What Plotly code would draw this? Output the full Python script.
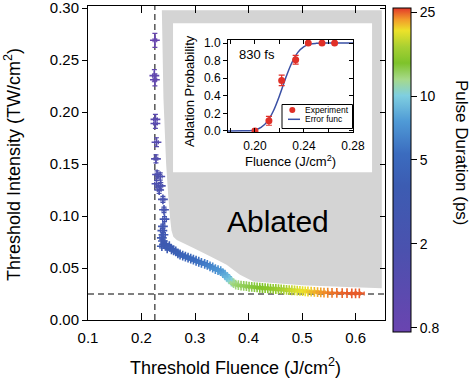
import math
import plotly.graph_objects as go
from plotly.colors import sample_colorscale

# ---------------- main data ----------------
fluence = [0.225, 0.224, 0.225, 0.226, 0.226, 0.228, 0.227, 0.229, 0.235, 0.228, 0.236, 0.233,
           0.240, 0.242, 0.243, 0.240, 0.239, 0.241, 0.238, 0.240, 0.243, 0.238, 0.246, 0.248,
           0.252, 0.256, 0.260, 0.264, 0.268, 0.272, 0.277, 0.282, 0.287, 0.292, 0.297, 0.302,
           0.307, 0.312, 0.318, 0.323, 0.328, 0.333, 0.338, 0.343, 0.348, 0.352, 0.356, 0.360,
           0.364, 0.368, 0.372, 0.376, 0.381, 0.386, 0.391, 0.396, 0.401, 0.406, 0.411, 0.416,
           0.421, 0.426, 0.431, 0.436, 0.441, 0.446, 0.451, 0.456, 0.461, 0.466, 0.471, 0.476,
           0.481, 0.486, 0.491, 0.496, 0.501, 0.506, 0.511, 0.517, 0.523, 0.529, 0.535, 0.541,
           0.548, 0.556, 0.565, 0.575, 0.584, 0.593, 0.600, 0.607]
intensity = [0.269, 0.235, 0.231, 0.193, 0.189, 0.171, 0.155, 0.140, 0.138, 0.131, 0.129, 0.125,
             0.116, 0.106, 0.097, 0.090, 0.086, 0.082, 0.079, 0.076, 0.073, 0.071, 0.072, 0.069,
             0.071, 0.068, 0.067, 0.066, 0.064, 0.063, 0.062, 0.061, 0.060, 0.059, 0.058, 0.057,
             0.056, 0.055, 0.054, 0.053, 0.0515, 0.0505, 0.049, 0.048, 0.047, 0.045, 0.0435, 0.0415,
             0.039, 0.037, 0.0355, 0.034, 0.0335, 0.033, 0.0328, 0.0325, 0.032, 0.0318, 0.0316, 0.0314,
             0.031, 0.0308, 0.0306, 0.0304, 0.0302, 0.030, 0.0298, 0.0296, 0.0294, 0.0292, 0.029, 0.0288,
             0.0286, 0.0284, 0.0282, 0.028, 0.0278, 0.0276, 0.0274, 0.0272, 0.027, 0.0268, 0.0266, 0.0264,
             0.0262, 0.0261, 0.026, 0.0259, 0.0258, 0.0257, 0.0256, 0.0256]
pulse_ps = [0.84, 0.95, 0.97, 1.17, 1.2, 1.33, 1.46, 1.64, 1.7, 1.74, 1.83, 1.86,
            2.07, 2.28, 2.5, 2.67, 2.78, 2.94, 3.0, 3.15, 3.3, 3.35, 3.4, 3.6,
            3.55, 3.75, 3.9, 4.0, 4.2, 4.3, 4.45, 4.6, 4.8, 4.95, 5.1, 5.3,
            5.5, 5.7, 5.9, 6.1, 6.4, 6.6, 6.9, 7.1, 7.4, 7.8, 8.2, 8.7,
            9.4, 10.5, 11.8, 12.3, 12.6, 12.9, 13.0, 13.2, 13.4, 13.6, 13.8, 14.0,
            14.2, 14.5, 14.7, 14.9, 15.1, 15.4, 15.7, 16.0, 16.4, 16.8, 17.3, 17.8,
            18.3, 18.8, 19.2, 19.6, 20.0, 20.4, 20.8, 21.3, 21.8, 22.3, 22.8, 23.2,
            23.6, 24.0, 24.3, 24.6, 24.8, 25.0, 25.0, 25.0]

# boundary of the grey "Ablated" region
region_fluence = [0.238, 0.241, 0.246, 0.250, 0.253, 0.256, 0.2595, 0.266, 0.297, 0.328,
                  0.359, 0.384, 0.409, 0.446, 0.500, 0.571, 0.649, 0.649]
region_intensity = [0.298, 0.213, 0.150, 0.119, 0.100, 0.086, 0.080, 0.077, 0.0693, 0.0612,
                    0.0532, 0.0435, 0.037, 0.0355, 0.0335, 0.032, 0.0306, 0.298]

threshold_fluence = 0.225
threshold_intensity = 0.025

x_ticks = [0.1, 0.2, 0.3, 0.4, 0.5, 0.6]
x_tick_text = ["0.1", "0.2", "0.3", "0.4", "0.5", "0.6"]
y_ticks = [0.0, 0.05, 0.10, 0.15, 0.20, 0.25, 0.30]
y_tick_text = ["0.00", "0.05", "0.10", "0.15", "0.20", "0.25", "0.30"]
cb_ticks = [0.8, 2, 5, 10, 25]
cb_tick_text = ["0.8", "2", "5", "10", "25"]

# ---------------- inset data ----------------
inset_fluence = [0.200, 0.2114, 0.2218, 0.2332, 0.2435, 0.2547, 0.265]
inset_prob = [0.0, 0.115, 0.575, 0.81, 1.0, 1.0, 1.0]
inset_err = [0.02, 0.05, 0.06, 0.05, 0.0, 0.0, 0.0]
fit_fluence = [0.178, 0.19, 0.195, 0.20, 0.205, 0.21, 0.215, 0.22, 0.225, 0.23, 0.235,
               0.24, 0.245, 0.25, 0.26, 0.28]
fit_prob = [0.0, 0.001, 0.003, 0.012, 0.04, 0.106, 0.227, 0.401, 0.599, 0.773, 0.894,
            0.96, 0.988, 0.997, 1.0, 1.0]
inset_x_ticks = [0.20, 0.24, 0.28]
inset_x_text = ["0.20", "0.24", "0.28"]
inset_x_minor = [0.18, 0.22, 0.26]
inset_y_ticks = [0.0, 0.2, 0.4, 0.6, 0.8, 1.0]
inset_y_text = ["0.0", "0.2", "0.4", "0.6", "0.8", "1.0"]

# ---------------- styling ----------------
FONT = "Liberation Sans, Arial, Helvetica, sans-serif"
W, H = 474, 386
L, R, T, B = 88, 89, 6, 66
PW, PH = W - L - R, H - T - B


def px(xp):
    return (xp - L) / PW


def py(yp):
    return (T + PH - yp) / PH


colorscale = [
    [0.0, "rgb(106,68,176)"], [0.25, "rgb(75,81,174)"], [0.45, "rgb(60,92,178)"],
    [0.55, "rgb(59,108,191)"], [0.65, "rgb(79,154,214)"], [0.73, "rgb(127,207,224)"],
    [0.78, "rgb(166,217,138)"], [0.83, "rgb(126,195,42)"], [0.88, "rgb(168,208,50)"],
    [0.93, "rgb(236,226,42)"], [0.965, "rgb(242,154,42)"], [1.0, "rgb(226,56,42)"],
]
cmin, cmax = -0.116, 1.417
log_pulse = [math.log10(v) for v in pulse_ps]
fracs = [min(1.0, max(0.0, (v - cmin) / (cmax - cmin))) for v in log_pulse]
point_colors = sample_colorscale(colorscale, fracs)

fig = go.Figure()

# colorbar carrier
fig.add_trace(go.Scatter(
    x=fluence, y=intensity, mode="markers", hoverinfo="skip", showlegend=False,
    marker=dict(color=log_pulse, colorscale=colorscale, cmin=cmin, cmax=cmax, opacity=0,
                size=4, showscale=True,
                colorbar=dict(
                    thickness=18, lenmode="pixels", len=324, y=py(170), yanchor="middle",
                    x=px(393), xanchor="left", xpad=0, ypad=0,
                    outlinewidth=1, outlinecolor="black",
                    tickvals=[math.log10(v) for v in cb_ticks], ticktext=cb_tick_text,
                    ticks="outside", ticklen=6, tickcolor="black",
                    tickfont=dict(size=14, family=FONT, color="black"))),
))

# data points with error bars, coloured by pulse duration
for f, i, c in zip(fluence, intensity, point_colors):
    fig.add_trace(go.Scatter(
        x=[f], y=[i], mode="markers", showlegend=False, hoverinfo="skip",
        marker=dict(symbol="cross-thin", size=7, color=c, line=dict(color=c, width=1.6)),
        error_x=dict(type="percent", value=1.5, color=c, thickness=1.2, width=2),
        error_y=dict(type="percent", value=2.5, color=c, thickness=1.2, width=2.5),
    ))

# right-side inside ticks of the main frame
fig.add_trace(go.Scatter(x=[None], y=[None], yaxis="y2", showlegend=False, hoverinfo="skip"))

# inset traces
fig.add_trace(go.Scatter(
    x=fit_fluence, y=fit_prob, mode="lines", xaxis="x3", yaxis="y3", showlegend=False,
    line=dict(color="rgb(58,80,165)", width=1.5, shape="spline"), hoverinfo="skip"))
fig.add_trace(go.Scatter(
    x=inset_fluence, y=inset_prob, mode="markers", xaxis="x3", yaxis="y3", showlegend=False,
    marker=dict(color="rgb(224,48,40)", size=7),
    error_y=dict(type="data", array=inset_err, color="rgb(224,48,40)", thickness=1.2, width=3),
    hoverinfo="skip"))
fig.add_trace(go.Scatter(x=[None], y=[None], xaxis="x3", yaxis="y4", showlegend=False,
                         hoverinfo="skip"))

# ---------------- shapes ----------------
path = "M " + " L ".join(f"{f},{i}" for f, i in zip(region_fluence, region_intensity)) + " Z"
shapes = [
    dict(type="path", path=path, xref="x", yref="y", layer="below",
         fillcolor="rgb(212,212,212)", line=dict(width=0)),
    dict(type="rect", xref="x", yref="y", layer="below", x0=0.2589, x1=0.6308,
         y0=0.1422, y1=0.2853, fillcolor="white", line=dict(width=0)),
    dict(type="line", xref="x", yref="paper", x0=threshold_fluence, x1=threshold_fluence,
         y0=0, y1=1, layer="below", line=dict(color="black", width=1, dash="6px,4px")),
    dict(type="line", xref="paper", yref="y", x0=0, x1=1, y0=threshold_intensity,
         y1=threshold_intensity, layer="below",
         line=dict(color="black", width=1, dash="6px,4px")),
    # inset legend
    dict(type="rect", xref="paper", yref="paper", x0=px(282), x1=px(352.5), y0=py(128.5),
         y1=py(104.5), fillcolor="white", line=dict(color="black", width=1), layer="above"),
    dict(type="circle", xref="paper", yref="paper", x0=px(289.3), x1=px(295.3), y0=py(113),
         y1=py(107), fillcolor="rgb(224,48,40)", line=dict(width=0), layer="above"),
    dict(type="line", xref="paper", yref="paper", x0=px(288), x1=px(300), y0=py(119.3),
         y1=py(119.3), line=dict(color="rgb(58,80,165)", width=1.5), layer="above"),
]

annotations = [
    dict(text="Threshold Intensity (TW/cm<sup>2</sup>)", x=px(12), y=py(165), xref="paper",
         yref="paper", textangle=-90, showarrow=False, xanchor="center", yanchor="middle",
         font=dict(size=18, family=FONT, color="black")),
    dict(text="Threshold Fluence (J/cm<sup>2</sup>)", x=px(235), y=py(366), xref="paper",
         yref="paper", showarrow=False, xanchor="center", yanchor="middle",
         font=dict(size=18, family=FONT, color="black")),
    dict(text="Pulse Duration (ps)", x=px(462), y=py(153), xref="paper", yref="paper",
         textangle=90, showarrow=False, xanchor="center", yanchor="middle",
         font=dict(size=17, family=FONT, color="black")),
    dict(text="Ablated", x=0.455, y=0.0948, xref="x", yref="y", showarrow=False,
         font=dict(size=30, family=FONT, color="black")),
    dict(text="830 fs", x=0.2017, y=0.872, xref="x3", yref="y3", showarrow=False,
         font=dict(size=13, family=FONT, color="black")),
    dict(text="Ablation Probability", x=px(189), y=py(91), xref="paper", yref="paper",
         textangle=-90, showarrow=False, xanchor="center", yanchor="middle",
         font=dict(size=13, family=FONT, color="black")),
    dict(text="Fluence (J/cm<sup>2</sup>)", x=px(290), y=py(161), xref="paper", yref="paper",
         showarrow=False, xanchor="center", yanchor="middle",
         font=dict(size=13, family=FONT, color="black")),
    dict(text="Experiment", x=px(303), y=py(110), xref="paper", yref="paper", showarrow=False,
         xanchor="left", yanchor="middle", font=dict(size=8.5, family=FONT, color="black")),
    dict(text="Error func", x=px(303), y=py(119.5), xref="paper", yref="paper", showarrow=False,
         xanchor="left", yanchor="middle", font=dict(size=8.5, family=FONT, color="black")),
]

axis_common = dict(showgrid=False, zeroline=False, linecolor="black", linewidth=1,
                   tickcolor="black", tickwidth=1, ticklabeloverflow="allow")

fig.update_layout(
    width=W, height=H, margin=dict(l=L, r=R, t=T, b=B, autoexpand=False),
    paper_bgcolor="white", plot_bgcolor="rgba(0,0,0,0)",
    font=dict(family=FONT, color="black"),
    showlegend=False,
    xaxis=dict(domain=[0, 1], range=[0.1, 0.655], tickvals=x_ticks, ticktext=x_tick_text,
               ticks="inside", ticklen=7, mirror="ticks", showline=True, anchor="y",
               ticklabelstandoff=4, tickfont=dict(size=15), **axis_common),
    yaxis=dict(domain=[0, 1], range=[0, 0.302], tickvals=y_ticks, ticktext=y_tick_text,
               ticks="outside", ticklen=5, mirror=True, showline=True, anchor="x",
               tickfont=dict(size=15), **axis_common),
    yaxis2=dict(overlaying="y", side="right", anchor="x", range=[0, 0.302], tickvals=y_ticks,
                ticks="inside", ticklen=5, showticklabels=False, showline=False,
                **axis_common),
    xaxis3=dict(domain=[px(228), px(353)], anchor="y3", range=[0.178, 0.28],
                tickvals=inset_x_ticks, ticktext=inset_x_text, ticks="inside", ticklen=4,
                mirror="ticks", showline=True, ticklabelstandoff=3,
                minor=dict(tickvals=inset_x_minor, ticks="inside", ticklen=4,
                           tickcolor="black"),
                tickfont=dict(size=12), **axis_common),
    yaxis3=dict(domain=[py(132), py(40)], anchor="x3", range=[-0.012, 1.035],
                tickvals=inset_y_ticks, ticktext=inset_y_text, ticks="outside", ticklen=4,
                mirror=True, showline=True, tickfont=dict(size=12), **axis_common),
    yaxis4=dict(overlaying="y3", side="right", anchor="x3", range=[-0.012, 1.035],
                tickvals=inset_y_ticks, ticks="inside", ticklen=4, showticklabels=False,
                showline=False, **axis_common),
    shapes=shapes,
    annotations=annotations,
)

fig.write_html("out.html", config={"displayModeBar": False},
               post_script="document.body.style.margin='0px';document.body.style.overflow='hidden';")
